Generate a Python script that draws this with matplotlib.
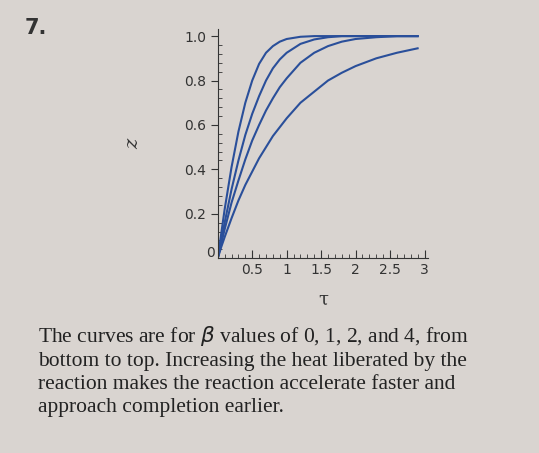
import matplotlib
matplotlib.use("Agg")
import matplotlib.pyplot as plt
from matplotlib.ticker import MultipleLocator

tau = [0, 0.05, 0.1, 0.2, 0.3, 0.4, 0.5, 0.6, 0.7, 0.8, 0.9, 1.0, 1.2, 1.4, 1.6, 1.8, 2.0, 2.3, 2.6, 2.9]
z_b0 = [0, 0.05, 0.095, 0.18, 0.26, 0.33, 0.39, 0.45, 0.50, 0.55, 0.59, 0.63, 0.70, 0.75, 0.80, 0.835, 0.865, 0.90, 0.925, 0.945]
z_b1 = [0, 0.065, 0.13, 0.25, 0.35, 0.445, 0.53, 0.60, 0.665, 0.72, 0.77, 0.81, 0.88, 0.925, 0.955, 0.975, 0.987, 0.995, 1.0, 1.0]
z_b2 = [0, 0.08, 0.16, 0.31, 0.44, 0.555, 0.65, 0.73, 0.80, 0.855, 0.895, 0.925, 0.965, 0.985, 0.995, 1.0, 1.0, 1.0, 1.0, 1.0]
z_b4 = [0, 0.11, 0.22, 0.41, 0.57, 0.70, 0.80, 0.875, 0.925, 0.955, 0.975, 0.987, 0.997, 1.0, 1.0, 1.0, 1.0, 1.0, 1.0, 1.0]
curves = [z_b0, z_b1, z_b2, z_b4]
caption = ("The curves are for $\\beta$ values of 0, 1, 2, and 4, from\n"
           "bottom to top. Increasing the heat liberated by the\n"
           "reaction makes the reaction accelerate faster and\n"
           "approach completion earlier.")

bg = "#d9d4d0"
fig = plt.figure(figsize=(5.39, 4.53), dpi=100, facecolor=bg)
ax = fig.add_axes([0.404, 0.43, 0.39, 0.505], facecolor=bg)
for z in curves:
    ax.plot(tau, z, color="#2a4f9a", lw=1.5)
ax.set_xlim(0, 3.05)
ax.set_ylim(0, 1.03)
for s in ["top", "right"]:
    ax.spines[s].set_visible(False)
ax.spines["left"].set_color("#333")
ax.spines["bottom"].set_color("#333")
ax.set_xticks([0.5, 1, 1.5, 2, 2.5, 3])
ax.set_xticklabels(["0.5", "1", "1.5", "2", "2.5", "3"])
ax.set_yticks([0.2, 0.4, 0.6, 0.8, 1.0])
ax.set_yticklabels(["0.2", "0.4", "0.6", "0.8", "1.0"])
ax.xaxis.set_minor_locator(MultipleLocator(0.1))
ax.yaxis.set_minor_locator(MultipleLocator(0.04))
ax.tick_params(axis="x", direction="in", length=6, labelsize=10, colors="#333")
ax.tick_params(axis="x", which="minor", direction="in", length=3, colors="#333")
ax.tick_params(axis="y", direction="out", length=5, labelsize=10, colors="#333")
ax.tick_params(axis="y", which="minor", direction="in", length=3, colors="#333")
ax.text(-0.04, -0.01, "0", ha="right", va="bottom", fontsize=10, color="#333")
ax.set_xlabel("τ", fontsize=13, family="DejaVu Serif", labelpad=10, color="#333")
ax.set_ylabel("z", fontsize=14, family="DejaVu Serif", style="italic",
              rotation=90, labelpad=30, color="#333")
fig.text(0.045, 0.925, "7.", fontsize=15, fontweight="bold", color="#333")
fig.text(0.07, 0.285, caption, fontsize=15.5, family="Liberation Serif",
         va="top", ha="left", color="#222", linespacing=1.3)
fig.savefig("out.png", dpi=100, facecolor=bg)
